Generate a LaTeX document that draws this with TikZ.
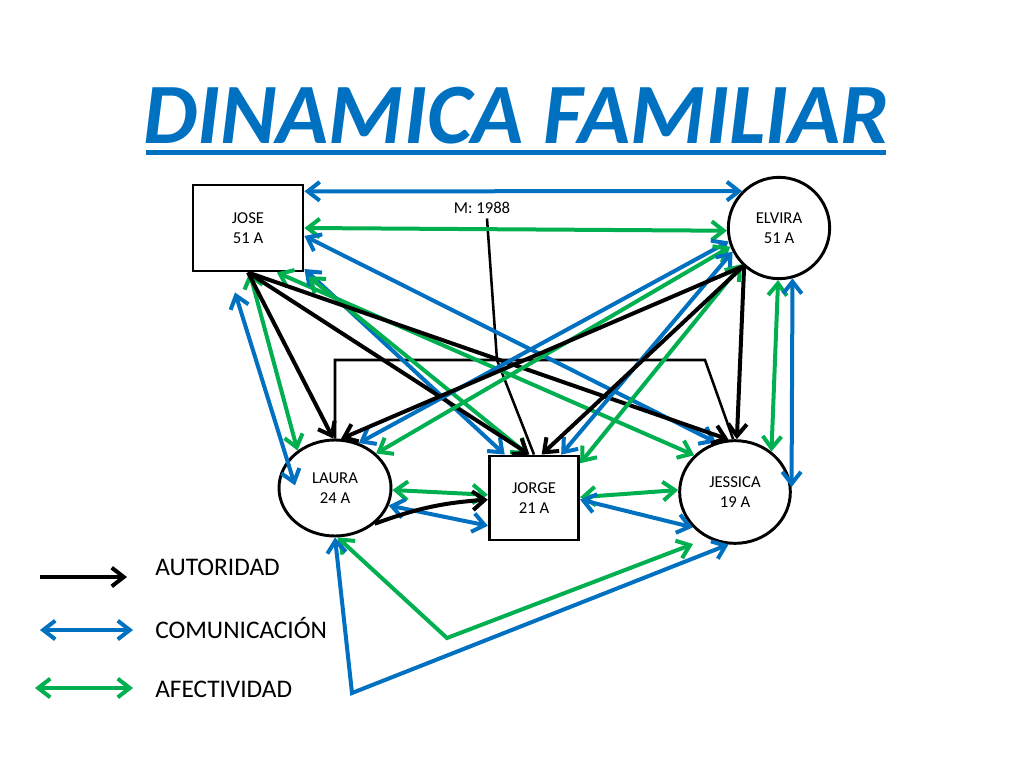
\documentclass[tikz,border=0pt]{standalone}
\usepackage{fontspec}
\setmainfont{Carlito}
\usepackage{tikz}
\usetikzlibrary{arrows.meta, shapes.geometric}
\definecolor{titleblue}{RGB}{0, 112, 192}
\definecolor{commblue}{RGB}{0, 112, 192}
\definecolor{affgreen}{RGB}{0, 176, 80}
\tikzset{
  >={Straight Barb[length=9pt, width=14pt]},
  flowarrow_black/.style={->, line width=3pt, black},
  flowarrow_blue/.style={<->, line width=3pt, commblue},
  flowarrow_green/.style={<->, line width=3pt, affgreen},
  genoline/.style={line width=1.9pt, black},
  personbox/.style={draw, line width=2.2pt, rectangle, align=center, font=\fontsize{12.5}{15}\selectfont},
  personround/.style={draw, line width=2.2pt, ellipse, align=center, inner sep=0pt, font=\fontsize{12.5}{15}\selectfont},
  legendtext/.style={inner sep=0pt, anchor=base west, font=\fontsize{19}{23}\selectfont}
}

\begin{document}
\begin{tikzpicture}[x=0.75pt, y=-0.75pt]
    \useasboundingbox (0,0) rectangle (1024,768);

    \node (title) [anchor=base, inner sep=0pt, text=titleblue, font=\fontsize{64.5}{70}\selectfont\bfseries\itshape] at (516,143) {DINAMICA FAMILIAR};
    \draw[titleblue, line width=3.8pt] ([yshift=-7pt, xshift=2pt]title.base west) -- ([yshift=-7pt, xshift=-2pt]title.base east);

    \node (jose) [personbox, minimum width=82.5pt, minimum height=64.5pt] at (248,228) {JOSE\\51 A};
    \node (elvira) [personround, minimum width=76pt, minimum height=76pt] at (779,228) {ELVIRA\\51 A};
    \node (laura) [personround, minimum width=84pt, minimum height=72pt] at (335,488) {LAURA\\24 A};
    \node (jorge) [personbox, minimum width=67pt, minimum height=63pt] at (534,498) {JORGE\\21 A};
    \node (jessica) [personround, minimum width=83pt, minimum height=77pt] at (735,492) {JESSICA\\19 A};

    \node (marr) [font=\fontsize{12.5}{15}\selectfont] at (482,208) {M: 1988};
    \coordinate (kidsM) at (497,360);
    \coordinate (kidsR) at (705,360);
    \draw[genoline] ([xshift=3.75pt]marr.south) -- (kidsM) -- (jorge.north);
    \draw[genoline] (laura.north) |- (kidsR) -- (jessica.92);

    \draw[flowarrow_blue] (jose.33) -- (elvira.135);
    \draw[flowarrow_green] (jose.0) -- (elvira.183);
    \draw[flowarrow_blue] (jose.-8) -- (jessica.111);
    \draw[flowarrow_green] (jose.-57) -- (jessica.138);
    \draw[flowarrow_blue] (jose.-36) -- (jorge.124);
    \draw[flowarrow_green] ([xshift=3pt,yshift=-3pt]jose.south east) -- (jorge.98);
    \draw[flowarrow_green] (jose.-88) -- (laura.135);
    \draw[flowarrow_blue] ([xshift=-9.75pt,yshift=-15pt]jose.south) -- ([xshift=-30pt,yshift=2pt]laura.center);
    \draw[flowarrow_black] (jose.south) -- (laura.92);
    \draw[flowarrow_black] (jose.south) -- (jorge.96);
    \draw[flowarrow_black] (jose.south) -- (jessica.97);

    \draw[flowarrow_blue] (elvira.195) -- (laura.62);
    \draw[flowarrow_green] (elvira.201) -- (laura.40);
    \draw[flowarrow_blue] (elvira.207) -- (jorge.58);
    \draw[flowarrow_green] (elvira.224) -- (jorge.37);
    \draw[flowarrow_black] (elvira.227) -- (laura.83);
    \draw[flowarrow_black] (elvira.227) -- (jorge.80);
    \draw[flowarrow_black] (elvira.228) -- (jessica.88);
    \draw[flowarrow_green] (elvira.-91) -- (jessica.48);
    \draw[flowarrow_blue] (elvira.-75) -- (jessica.5);

    \draw[flowarrow_green] (laura.-2) -- (jorge.176);
    \draw[flowarrow_blue] (laura.-18) -- (jorge.211);
    \draw[flowarrow_black] (laura.-42) to[bend left=8] (jorge.182);
    \draw[flowarrow_green] (jorge.1) -- (jessica.178);
    \draw[flowarrow_blue] (jorge.-2) -- (jessica.220);

    \coordinate (affturn) at (447,638);
    \coordinate (commturn) at (352,693);
    \draw[flowarrow_green] (laura.-87) -- (affturn) -- ([xshift=-31.5pt,yshift=-39pt]jessica.center);
    \draw[flowarrow_blue] (laura.south) -- (commturn) -- (jessica.-97);

    \coordinate (authA) at (40,577);
    \coordinate (authB) at (127,577);
    \coordinate (commA) at (40,630);
    \coordinate (commB) at (133,630);
    \coordinate (affA) at (35,688);
    \coordinate (affB) at (133,688);
    \draw[flowarrow_black] (authA) -- (authB);
    \draw[flowarrow_blue] (commA) -- (commB);
    \draw[flowarrow_green] (affA) -- (affB);
    \node (lblauth) [legendtext] at (155,575) {AUTORIDAD};
    \node (lblcomm) [legendtext] at (155,638) {COMUNICACIÓN};
    \node (lblaff) [legendtext] at (155,697) {AFECTIVIDAD};
\end{tikzpicture}
\end{document}
